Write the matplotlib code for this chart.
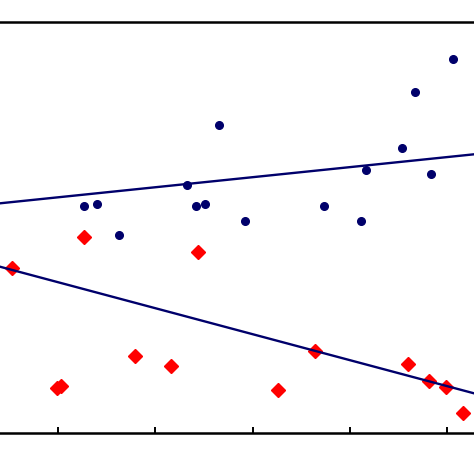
import matplotlib
matplotlib.use('Agg')
import matplotlib.pyplot as plt
import numpy as np

# data (x in tick units, y in arbitrary units 0..10)
blue_x = [1.27, 1.40, 1.63, 2.33, 2.42, 2.51, 2.66, 2.92, 3.74, 4.12, 4.17, 4.54, 4.67, 4.84, 5.06]
blue_y = [5.53, 5.57, 4.82, 6.03, 5.53, 5.57, 7.50, 5.16, 5.53, 5.16, 6.39, 6.93, 8.29, 6.31, 9.11]
red_x = [1.27, 2.44, 0.53, 1.79, 2.16, 0.99, 1.03, 3.26, 3.64, 4.60, 4.82, 4.99, 5.16]
red_y = [4.78, 4.40, 4.02, 1.87, 1.62, 1.09, 1.15, 1.04, 1.99, 1.67, 1.27, 1.13, 0.49]

# fitted lines: slope, intercept
blue_fit = [0.2446, 5.49]
red_fit = [-0.632, 4.301]

xticks = [1, 2, 3, 4, 5]

navy = '#00006b'
red = '#ff0000'

fig = plt.figure(figsize=(4.74, 4.74), dpi=100)
ax = fig.add_axes([0, 41/474, 1, 411/474])

ax.plot(blue_x, blue_y, 'o', color=navy, ms=5.5, mec=navy)
ax.plot(red_x, red_y, 'D', color=red, ms=7.5, mec=red)

xl = np.array([0.3, 5.5])
ax.plot(xl, blue_fit[0]*xl + blue_fit[1], color=navy, lw=1.7)
ax.plot(xl, red_fit[0]*xl + red_fit[1], color=navy, lw=1.7)

ax.set_xlim(1 - 58/97.25, 1 + (474-58)/97.25)
ax.set_ylim(0, 10)
ax.set_xticks(xticks)
ax.set_yticks([])
ax.tick_params(axis='x', direction='in', length=4.5, width=1.4, labelbottom=False)
for s in ['left', 'right']:
    ax.spines[s].set_visible(False)
for s in ['top', 'bottom']:
    ax.spines[s].set_linewidth(1.8)

fig.savefig('out.png', dpi=100)
